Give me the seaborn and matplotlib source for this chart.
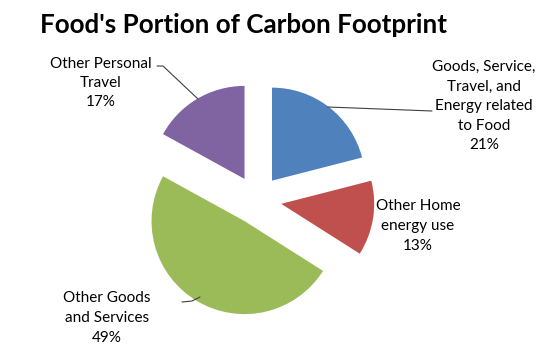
import matplotlib
matplotlib.use("Agg")
import matplotlib.pyplot as plt
import seaborn as sns

# Shares of a household carbon footprint (percent)
categories = [
    "Goods, Service,\nTravel, and\nEnergy related\nto Food",
    "Other Home\nenergy use",
    "Other Goods\nand Services",
    "Other Personal\nTravel",
]
shares = [21, 13, 49, 17]
colors = ["#4F81BD", "#C0504D", "#9BBB59", "#8064A2"]
title = "Food's Portion of Carbon Footprint"

sns.set_theme(style="white")
plt.rcParams["font.family"] = ["Lato", "DejaVu Sans"]

W, H = 552, 350
fig = plt.figure(figsize=(W / 100, H / 100), dpi=100)
ax = fig.add_axes([0, 0, 1, 1])


def px(x, y):
    """Pixel position (origin top-left) to data coordinates."""
    return x, H - y


radius = 93
ax.pie(
    shares,
    colors=colors,
    radius=radius,
    center=px(257, 200),
    explode=[24.5] * len(shares),
    startangle=90,
    counterclock=False,
    wedgeprops=dict(linewidth=0),
)
ax.set_xlim(0, W)
ax.set_ylim(0, H)
ax.set_aspect("equal")
ax.axis("off")

fig.text(243.5 / W, 1 - 25 / H, title, ha="center", va="center",
         fontsize=18.7, fontweight="bold", color="black")

label_pos = [(484, 106), (418, 226), (107, 318), (101, 83)]
for cat, val, (lx, ly) in zip(categories, shares, label_pos):
    ax.text(*px(lx, ly), f"{cat}\n{val}%", ha="center", va="center",
            fontsize=11, linespacing=1.5, color="black")

# leader lines
leader_kw = dict(color="#404040", linewidth=0.8)
ax.plot(*zip(px(328, 107), px(432, 111)), **leader_kw)
ax.plot(*zip(px(157, 66), px(163, 66), px(198, 99)), **leader_kw)
ax.plot(*zip(px(182, 302), px(192, 301), px(200, 297)), **leader_kw)

fig.savefig("out.png", dpi=100)
